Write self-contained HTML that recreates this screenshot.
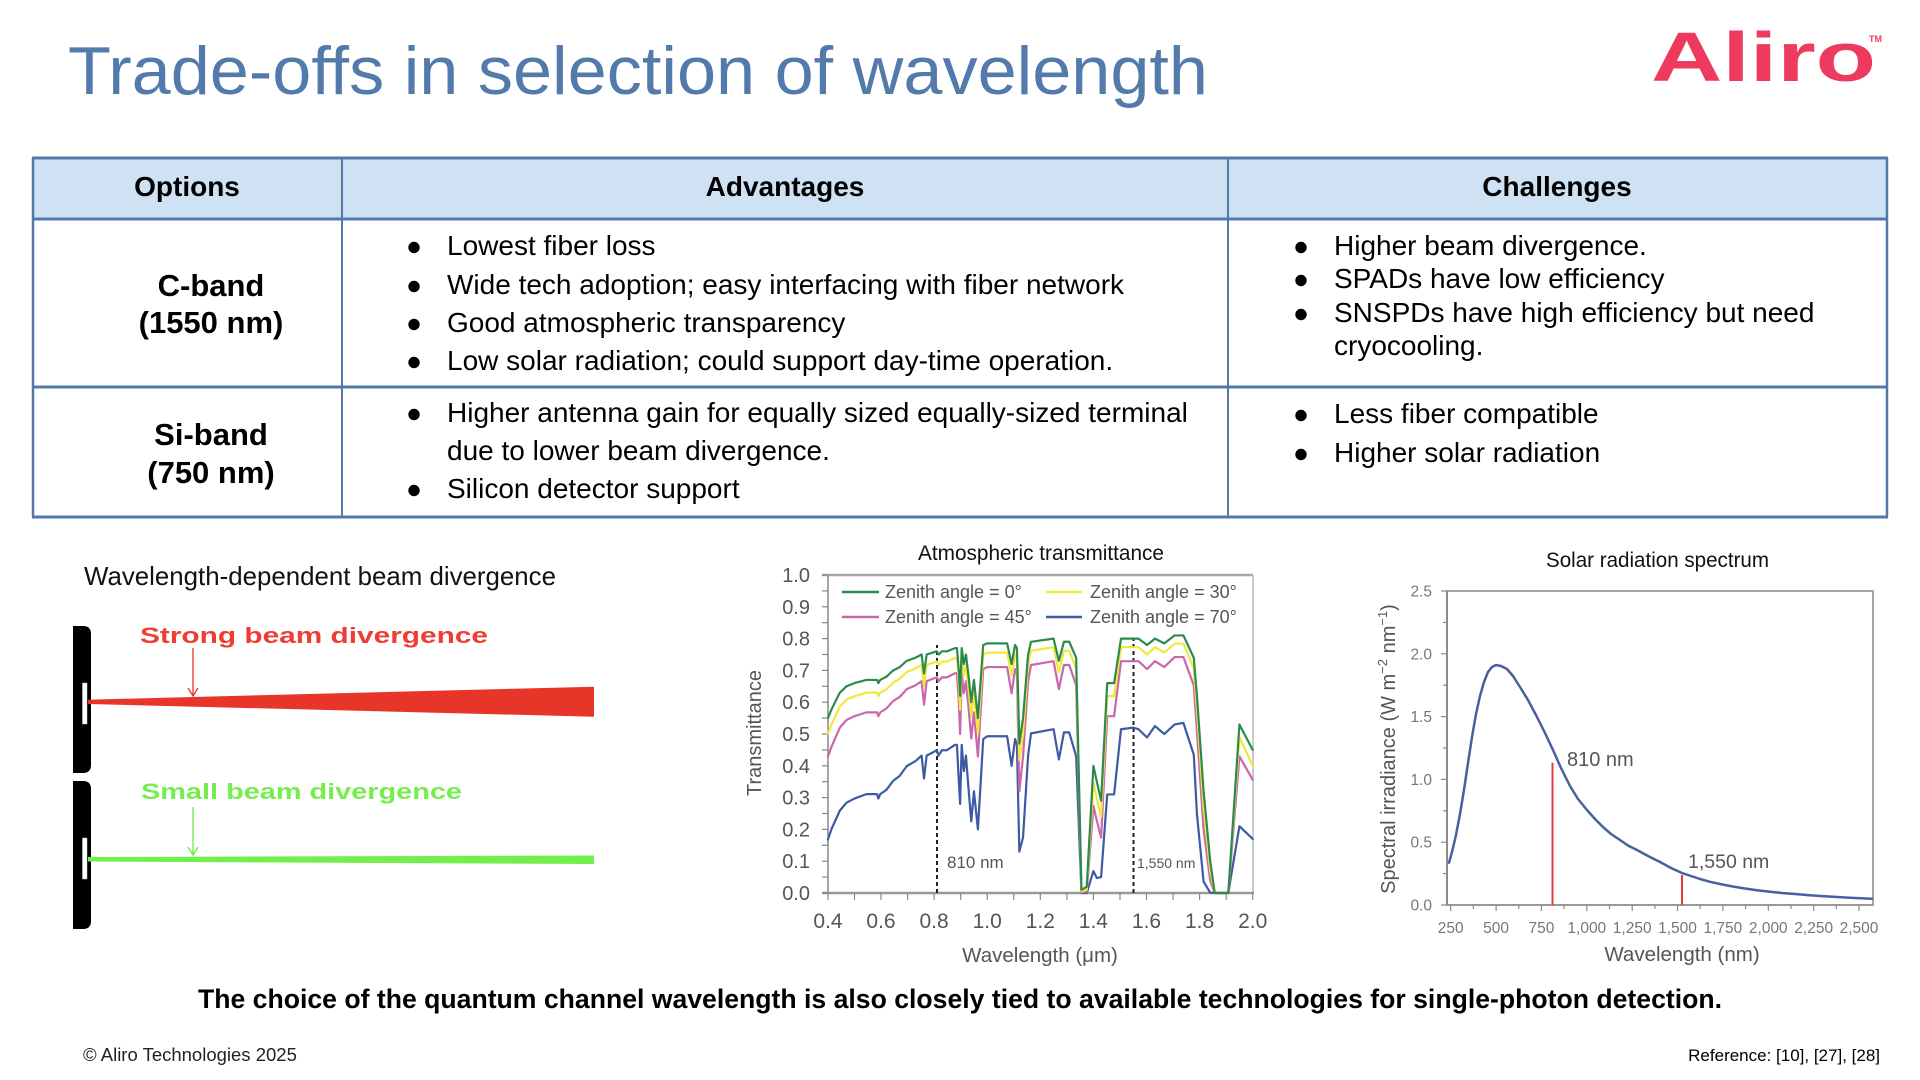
<!DOCTYPE html>
<html><head><meta charset="utf-8"><title>Trade-offs in selection of wavelength</title>
<style>
html,body{margin:0;padding:0;background:#fff;}
svg{display:block;}
text{font-family:"Liberation Sans",Arial,sans-serif;}
</style></head>
<body>
<svg width="1920" height="1080" viewBox="0 0 1920 1080" xmlns="http://www.w3.org/2000/svg">
<rect width="1920" height="1080" fill="#fff"/>

<!-- Title -->
<text x="68" y="94" font-size="68" fill="#527aaa" textLength="1140" lengthAdjust="spacingAndGlyphs">Trade-offs in selection of wavelength</text>

<!-- Logo -->
<text x="1651" y="81" font-size="70" font-weight="bold" fill="#ee3a5e" textLength="225" lengthAdjust="spacingAndGlyphs">Aliro</text>
<text x="1869" y="42" font-size="9" font-weight="bold" fill="#ee3a5e">TM</text>

<!-- Table -->
<rect x="33" y="158" width="1854" height="61" fill="#cfe2f3"/>
<g stroke="#5478a8" fill="none">
  <line x1="32" y1="158" x2="1888" y2="158" stroke-width="3"/>
  <line x1="32" y1="219" x2="1888" y2="219" stroke-width="3"/>
  <line x1="32" y1="387" x2="1888" y2="387" stroke-width="3"/>
  <line x1="32" y1="517" x2="1888" y2="517" stroke-width="3"/>
  <line x1="33" y1="158" x2="33" y2="517" stroke-width="2.5"/>
  <line x1="342" y1="158" x2="342" y2="517" stroke-width="2"/>
  <line x1="1228" y1="158" x2="1228" y2="517" stroke-width="2"/>
  <line x1="1887" y1="158" x2="1887" y2="517" stroke-width="2.5"/>
</g>
<g font-size="28" font-weight="bold" fill="#000" text-anchor="middle">
  <text x="187" y="196">Options</text>
  <text x="785" y="196">Advantages</text>
  <text x="1557" y="196">Challenges</text>
</g>
<g font-size="31" font-weight="bold" fill="#000" text-anchor="middle">
  <text x="211" y="296">C-band</text>
  <text x="211" y="333">(1550 nm)</text>
  <text x="211" y="445">Si-band</text>
  <text x="211" y="483">(750 nm)</text>
</g>
<g font-size="28" fill="#000">
  <text x="447" y="255">Lowest fiber loss</text>
  <text x="447" y="294">Wide tech adoption; easy interfacing with fiber network</text>
  <text x="447" y="332">Good atmospheric transparency</text>
  <text x="447" y="370">Low solar radiation; could support day-time operation.</text>
  <text x="447" y="422">Higher antenna gain for equally sized equally-sized terminal</text>
  <text x="447" y="460">due to lower beam divergence.</text>
  <text x="447" y="498">Silicon detector support</text>
  <text x="1334" y="255">Higher beam divergence.</text>
  <text x="1334" y="288">SPADs have low efficiency</text>
  <text x="1334" y="322">SNSPDs have high efficiency but need</text>
  <text x="1334" y="355">cryocooling.</text>
  <text x="1334" y="423">Less fiber compatible</text>
  <text x="1334" y="462">Higher solar radiation</text>
</g>
<g fill="#000">
  <circle cx="414" cy="247.5" r="5.7"/>
  <circle cx="414" cy="286.5" r="5.7"/>
  <circle cx="414" cy="324.5" r="5.7"/>
  <circle cx="414" cy="362.5" r="5.7"/>
  <circle cx="414" cy="414.5" r="5.7"/>
  <circle cx="414" cy="490.5" r="5.7"/>
  <circle cx="1301" cy="247.5" r="5.7"/>
  <circle cx="1301" cy="280.5" r="5.7"/>
  <circle cx="1301" cy="314.5" r="5.7"/>
  <circle cx="1301" cy="415.5" r="5.7"/>
  <circle cx="1301" cy="454.5" r="5.7"/>
</g>

<!-- Beam divergence figure -->
<text x="84" y="585" font-size="26" fill="#111" textLength="472" lengthAdjust="spacingAndGlyphs">Wavelength-dependent beam divergence</text>
<path d="M73,626 H83 Q91,626 91,634 V765 Q91,773 83,773 H73 Z" fill="#000"/>
<path d="M73,781 H83 Q91,781 91,789 V921 Q91,929 83,929 H73 Z" fill="#000"/>
<rect x="82.5" y="683" width="4.5" height="41" fill="#fff" stroke="#ccc" stroke-width="0.5"/>
<rect x="82.5" y="838" width="4.5" height="41" fill="#fff" stroke="#ccc" stroke-width="0.5"/>
<polygon points="88,699.7 594,686.7 594,716.7 88,704" fill="#e8352a"/>
<polygon points="88,857 594,855.5 594,864 88,861.5" fill="#74ee4c"/>
<text x="140" y="643" font-size="22" font-weight="bold" fill="#ee3d32" textLength="348" lengthAdjust="spacingAndGlyphs">Strong beam divergence</text>
<text x="141" y="799" font-size="22" font-weight="bold" fill="#74ee4c" textLength="321" lengthAdjust="spacingAndGlyphs">Small beam divergence</text>
<g stroke="#e8352a" stroke-width="1.3" fill="none">
  <line x1="193" y1="648" x2="193" y2="696"/>
  <polyline points="188,688 193,696 198,688"/>
</g>
<g stroke="#6ee84a" stroke-width="1.3" fill="none">
  <line x1="193" y1="807" x2="193" y2="855"/>
  <polyline points="188,847 193,855 198,847"/>
</g>

<!-- Atmospheric transmittance chart -->
<text x="918" y="560" font-size="21" fill="#111" textLength="246" lengthAdjust="spacingAndGlyphs">Atmospheric transmittance</text>
<g fill="none">
  <line x1="822" y1="575" x2="1253" y2="575" stroke="#a8a8a8" stroke-width="2.5"/>
  <line x1="1253" y1="575" x2="1253" y2="893" stroke="#bbb" stroke-width="1.5"/>
  <line x1="828" y1="575" x2="828" y2="893" stroke="#888" stroke-width="1.5"/>
  <line x1="822" y1="893" x2="1254" y2="893" stroke="#999" stroke-width="2.5"/>
</g>
<g stroke="#888" stroke-width="1.2">
  <line x1="822" y1="893" x2="828" y2="893"/><line x1="822" y1="877.1" x2="828" y2="877.1"/>
  <line x1="822" y1="861.2" x2="828" y2="861.2"/><line x1="822" y1="845.3" x2="828" y2="845.3"/>
  <line x1="822" y1="829.4" x2="828" y2="829.4"/><line x1="822" y1="813.5" x2="828" y2="813.5"/>
  <line x1="822" y1="797.6" x2="828" y2="797.6"/><line x1="822" y1="781.7" x2="828" y2="781.7"/>
  <line x1="822" y1="765.8" x2="828" y2="765.8"/><line x1="822" y1="749.9" x2="828" y2="749.9"/>
  <line x1="822" y1="734" x2="828" y2="734"/><line x1="822" y1="718.1" x2="828" y2="718.1"/>
  <line x1="822" y1="702.2" x2="828" y2="702.2"/><line x1="822" y1="686.3" x2="828" y2="686.3"/>
  <line x1="822" y1="670.4" x2="828" y2="670.4"/><line x1="822" y1="654.5" x2="828" y2="654.5"/>
  <line x1="822" y1="638.6" x2="828" y2="638.6"/><line x1="822" y1="622.7" x2="828" y2="622.7"/>
  <line x1="822" y1="606.8" x2="828" y2="606.8"/><line x1="822" y1="590.9" x2="828" y2="590.9"/>
  <line x1="822" y1="575" x2="828" y2="575"/>
  <line x1="828" y1="893" x2="828" y2="900"/><line x1="854.5" y1="893" x2="854.5" y2="900"/>
  <line x1="881" y1="893" x2="881" y2="900"/><line x1="907.6" y1="893" x2="907.6" y2="900"/>
  <line x1="934.1" y1="893" x2="934.1" y2="900"/><line x1="960.7" y1="893" x2="960.7" y2="900"/>
  <line x1="987.2" y1="893" x2="987.2" y2="900"/><line x1="1013.8" y1="893" x2="1013.8" y2="900"/>
  <line x1="1040.3" y1="893" x2="1040.3" y2="900"/><line x1="1066.9" y1="893" x2="1066.9" y2="900"/>
  <line x1="1093.4" y1="893" x2="1093.4" y2="900"/><line x1="1120" y1="893" x2="1120" y2="900"/>
  <line x1="1146.5" y1="893" x2="1146.5" y2="900"/><line x1="1173.1" y1="893" x2="1173.1" y2="900"/>
  <line x1="1199.6" y1="893" x2="1199.6" y2="900"/><line x1="1226.2" y1="893" x2="1226.2" y2="900"/>
  <line x1="1252.7" y1="893" x2="1252.7" y2="900"/>
</g>
<g font-size="20" fill="#555" text-anchor="end">
  <text x="810" y="900">0.0</text><text x="810" y="868.2">0.1</text>
  <text x="810" y="836.4">0.2</text><text x="810" y="804.6">0.3</text>
  <text x="810" y="772.8">0.4</text><text x="810" y="741">0.5</text>
  <text x="810" y="709.2">0.6</text><text x="810" y="677.4">0.7</text>
  <text x="810" y="645.6">0.8</text><text x="810" y="613.8">0.9</text>
  <text x="810" y="582">1.0</text>
</g>
<g font-size="21" fill="#555" text-anchor="middle">
  <text x="828" y="928">0.4</text><text x="881" y="928">0.6</text>
  <text x="934.1" y="928">0.8</text><text x="987.2" y="928">1.0</text>
  <text x="1040.3" y="928">1.2</text><text x="1093.4" y="928">1.4</text>
  <text x="1146.5" y="928">1.6</text><text x="1199.6" y="928">1.8</text>
  <text x="1252.7" y="928">2.0</text>
</g>
<text x="1040" y="962" font-size="20.5" fill="#555" text-anchor="middle">Wavelength (μm)</text>
<text transform="translate(761,733) rotate(-90)" font-size="20" fill="#555" text-anchor="middle">Transmittance</text>

<!-- legend -->
<g stroke-width="2.5">
  <line x1="842" y1="592" x2="879" y2="592" stroke="#2d8a4e"/>
  <line x1="1046" y1="592" x2="1082" y2="592" stroke="#f0e83c"/>
  <line x1="842" y1="617" x2="879" y2="617" stroke="#c867ac"/>
  <line x1="1046" y1="617" x2="1082" y2="617" stroke="#3d5aa5"/>
</g>
<g font-size="18" fill="#555">
  <text x="885" y="598">Zenith angle = 0°</text>
  <text x="1090" y="598">Zenith angle = 30°</text>
  <text x="885" y="623">Zenith angle = 45°</text>
  <text x="1090" y="623">Zenith angle = 70°</text>
</g>

<!-- dashed markers -->
<g stroke="#222" stroke-width="2" stroke-dasharray="4 3">
  <line x1="937" y1="893" x2="937" y2="645"/>
  <line x1="1133.5" y1="893" x2="1133.5" y2="638"/>
</g>
<text x="947" y="868" font-size="17" fill="#555">810 nm</text>
<text x="1137" y="868" font-size="14" fill="#555">1,550 nm</text>

<!-- curves -->
<g transform="translate(827.9,893) scale(265.5,-318)" fill="none" stroke-width="2.2" stroke-linejoin="round" stroke-linecap="round">
<polyline vector-effect="non-scaling-stroke" stroke="#3d5aa5" points="0,.168 .015,.204 .045,.259 .07,.284 .1,.297 .145,.311 .185,.311 .19,.297 .197,.311 .22,.324 .246,.353 .27,.368 .297,.399 .33,.415 .353,.432 .362,.36 .372,.432 .41,.449 .417,.432 .429,.449 .448,.449 .479,.466 .486,.466 .493,.353 .498,.28 .504,.466 .512,.383 .52,.432 .53,.324 .54,.225 .55,.32 .565,.2 .585,.484 .6,.493 .675,.493 .692,.4 .705,.484 .712,.466 .721,.13 .735,.175 .754,.432 .765,.502 .85,.515 .87,.42 .889,.505 .909,.505 .935,.43 .955,0 .975,0 1,.069 1.013,.047 1.029,.05 1.052,.31 1.078,.31 1.104,.515 1.15,.52 1.17,.515 1.202,.489 1.232,.525 1.267,.5 1.306,.53 1.339,.535 1.378,.435 1.39,.248 1.415,.036 1.44,.001 1.457,0 1.508,0 1.55,.21 1.6,.17"/>
<polyline vector-effect="non-scaling-stroke" stroke="#c867ac" points="0,.429 .015,.463 .045,.52 .07,.544 .1,.556 .145,.568 .185,.568 .19,.556 .197,.568 .22,.58 .246,.604 .27,.616 .297,.641 .33,.653 .353,.666 .362,.592 .372,.666 .41,.678 .417,.666 .429,.678 .448,.678 .479,.691 .486,.691 .493,.604 .498,.5 .504,.691 .512,.628 .52,.666 .53,.58 .54,.486 .55,.568 .565,.429 .585,.704 .6,.7105 .675,.7105 .692,.628 .705,.704 .712,.691 .721,.32 .735,.429 .754,.666 .765,.717 .85,.729 .87,.641 .889,.717 .909,.717 .935,.653 .955,.002 .975,.004 1,.274 1.013,.227 1.029,.174 1.052,.556 1.078,.556 1.104,.729 1.15,.729 1.17,.729 1.202,.704 1.232,.729 1.267,.7105 1.306,.742 1.339,.742 1.378,.653 1.39,.509 1.415,.2 1.44,.038 1.457,0 1.508,0 1.55,.43 1.6,.356"/>
<polyline vector-effect="non-scaling-stroke" stroke="#f0e83c" points="0,.501 .015,.533 .045,.586 .07,.608 .1,.619 .145,.63 .185,.63 .19,.619 .197,.63 .22,.64 .246,.662 .27,.673 .297,.695 .33,.706 .353,.717 .362,.651 .372,.717 .41,.728 .417,.717 .429,.728 .448,.728 .479,.739 .486,.739 .493,.662 .498,.576 .504,.739 .512,.684 .52,.717 .53,.64 .54,.554 .55,.63 .565,.501 .585,.75 .6,.756 .675,.756 .692,.684 .705,.75 .712,.739 .721,.418 .735,.501 .754,.717 .765,.762 .85,.773 .87,.695 .889,.762 .909,.762 .935,.706 .955,.005 .975,.011 1,.347 1.013,.297 1.029,.239 1.052,.619 1.078,.619 1.104,.773 1.15,.773 1.17,.773 1.202,.75 1.232,.773 1.267,.756 1.306,.784 1.339,.784 1.378,.706 1.39,.576 1.415,.268 1.44,.07 1.457,0 1.508,0 1.55,.49 1.6,.4"/>
<polyline vector-effect="non-scaling-stroke" stroke="#2d8a4e" points="0,.55 .015,.58 .045,.63 .07,.65 .1,.66 .145,.67 .185,.67 .19,.66 .197,.67 .22,.68 .246,.7 .27,.71 .297,.73 .33,.74 .353,.75 .362,.69 .372,.75 .41,.76 .417,.75 .429,.76 .448,.76 .479,.77 .486,.77 .493,.7 .498,.62 .504,.77 .512,.72 .52,.75 .53,.68 .54,.6 .55,.67 .565,.55 .585,.78 .6,.785 .675,.785 .692,.72 .705,.78 .712,.77 .721,.47 .735,.55 .754,.75 .765,.79 .85,.8 .87,.73 .889,.79 .909,.79 .935,.74 .955,.01 .975,.02 1,.4 1.013,.35 1.029,.29 1.052,.66 1.078,.66 1.104,.8 1.15,.8 1.17,.8 1.202,.78 1.232,.8 1.267,.785 1.306,.81 1.339,.81 1.378,.74 1.39,.62 1.415,.32 1.44,.1 1.457,0 1.508,0 1.55,.53 1.6,.45"/>
</g>

<!-- Solar radiation spectrum chart -->
<text x="1546" y="567" font-size="21" fill="#111" textLength="223" lengthAdjust="spacingAndGlyphs">Solar radiation spectrum</text>
<rect x="1447" y="591" width="426" height="314" fill="none" stroke="#a5a5a5" stroke-width="2"/>
<line x1="1447" y1="591" x2="1447" y2="905" stroke="#888" stroke-width="1.8"/>
<line x1="1447" y1="905" x2="1873" y2="905" stroke="#999" stroke-width="2"/>
<g stroke="#888" stroke-width="1.2">
  <line x1="1441" y1="905" x2="1447" y2="905"/><line x1="1443" y1="873.6" x2="1447" y2="873.6"/>
  <line x1="1441" y1="842.2" x2="1447" y2="842.2"/><line x1="1443" y1="810.8" x2="1447" y2="810.8"/>
  <line x1="1441" y1="779.4" x2="1447" y2="779.4"/><line x1="1443" y1="748" x2="1447" y2="748"/>
  <line x1="1441" y1="716.6" x2="1447" y2="716.6"/><line x1="1443" y1="685.2" x2="1447" y2="685.2"/>
  <line x1="1441" y1="653.8" x2="1447" y2="653.8"/><line x1="1443" y1="622.4" x2="1447" y2="622.4"/>
  <line x1="1441" y1="591" x2="1447" y2="591"/>
  <line x1="1450.7" y1="905" x2="1450.7" y2="911"/><line x1="1473.4" y1="905" x2="1473.4" y2="909"/>
  <line x1="1496.1" y1="905" x2="1496.1" y2="911"/><line x1="1518.8" y1="905" x2="1518.8" y2="909"/>
  <line x1="1541.4" y1="905" x2="1541.4" y2="911"/><line x1="1564.1" y1="905" x2="1564.1" y2="909"/>
  <line x1="1586.8" y1="905" x2="1586.8" y2="911"/><line x1="1609.5" y1="905" x2="1609.5" y2="909"/>
  <line x1="1632.2" y1="905" x2="1632.2" y2="911"/><line x1="1654.9" y1="905" x2="1654.9" y2="909"/>
  <line x1="1677.5" y1="905" x2="1677.5" y2="911"/><line x1="1700.2" y1="905" x2="1700.2" y2="909"/>
  <line x1="1722.9" y1="905" x2="1722.9" y2="911"/><line x1="1745.6" y1="905" x2="1745.6" y2="909"/>
  <line x1="1768.3" y1="905" x2="1768.3" y2="911"/><line x1="1791" y1="905" x2="1791" y2="909"/>
  <line x1="1813.7" y1="905" x2="1813.7" y2="911"/><line x1="1836.3" y1="905" x2="1836.3" y2="909"/>
  <line x1="1859" y1="905" x2="1859" y2="911"/>
</g>
<g font-size="15.5" fill="#777" text-anchor="end">
  <text x="1432" y="910.5">0.0</text><text x="1432" y="847.7">0.5</text>
  <text x="1432" y="784.9">1.0</text><text x="1432" y="722.1">1.5</text>
  <text x="1432" y="659.3">2.0</text><text x="1432" y="596.5">2.5</text>
</g>
<g font-size="15.5" fill="#777" text-anchor="middle">
  <text x="1450.7" y="933">250</text><text x="1496.1" y="933">500</text>
  <text x="1541.4" y="933">750</text><text x="1586.8" y="933">1,000</text>
  <text x="1632.2" y="933">1,250</text><text x="1677.5" y="933">1,500</text>
  <text x="1722.9" y="933">1,750</text><text x="1768.3" y="933">2,000</text>
  <text x="1813.7" y="933">2,250</text><text x="1859" y="933">2,500</text>
</g>
<text x="1682" y="961" font-size="20.5" fill="#555" text-anchor="middle">Wavelength (nm)</text>
<text transform="translate(1395,749) rotate(-90)" font-size="20" fill="#555" text-anchor="middle">Spectral irradiance (W m<tspan font-size="13" dy="-8">−2</tspan><tspan dy="8"> nm</tspan><tspan font-size="13" dy="-8">−1</tspan><tspan dy="8">)</tspan></text>
<polyline fill="none" stroke="#4a5fa0" stroke-width="2.5" stroke-linejoin="round" stroke-linecap="round" points="1449,862.7 1452,852 1456,835 1460,814 1464,790 1468,763 1472,737 1476,714 1480,696 1484,682 1488,672 1492,667 1496,665 1501,666 1507,669 1513,676 1520,687 1528,700 1537,717 1545,733 1553,750 1561,768 1570,786 1578,799 1587,810 1595,819 1603,827 1611,834 1620,840 1628,845.5 1637,850 1648,856 1660,862 1671,868 1682,873 1691,876 1700,879 1710,881.8 1720,884 1732,886.4 1745,888.5 1757,890.2 1770,891.7 1782,893 1795,894 1808,895.1 1820,896 1833,896.8 1845,897.5 1858,898.1 1872,898.7"/>
<line x1="1552.5" y1="762.7" x2="1552.5" y2="905" stroke="#e0403c" stroke-width="2"/>
<line x1="1682" y1="875" x2="1682" y2="905" stroke="#e0403c" stroke-width="2"/>
<text x="1567" y="766" font-size="20" fill="#555">810 nm</text>
<text x="1688" y="868" font-size="19.5" fill="#555">1,550 nm</text>

<!-- Bottom statement -->
<text x="198" y="1008" font-size="26.5" font-weight="bold" fill="#000" textLength="1524" lengthAdjust="spacingAndGlyphs">The choice of the quantum channel wavelength is also closely tied to available technologies for single-photon detection.</text>

<!-- Footer -->
<text x="83" y="1061" font-size="18.5" fill="#222">© Aliro Technologies 2025</text>
<text x="1880" y="1061" font-size="17" fill="#000" text-anchor="end">Reference: [10], [27], [28]</text>
</svg>
</body></html>
